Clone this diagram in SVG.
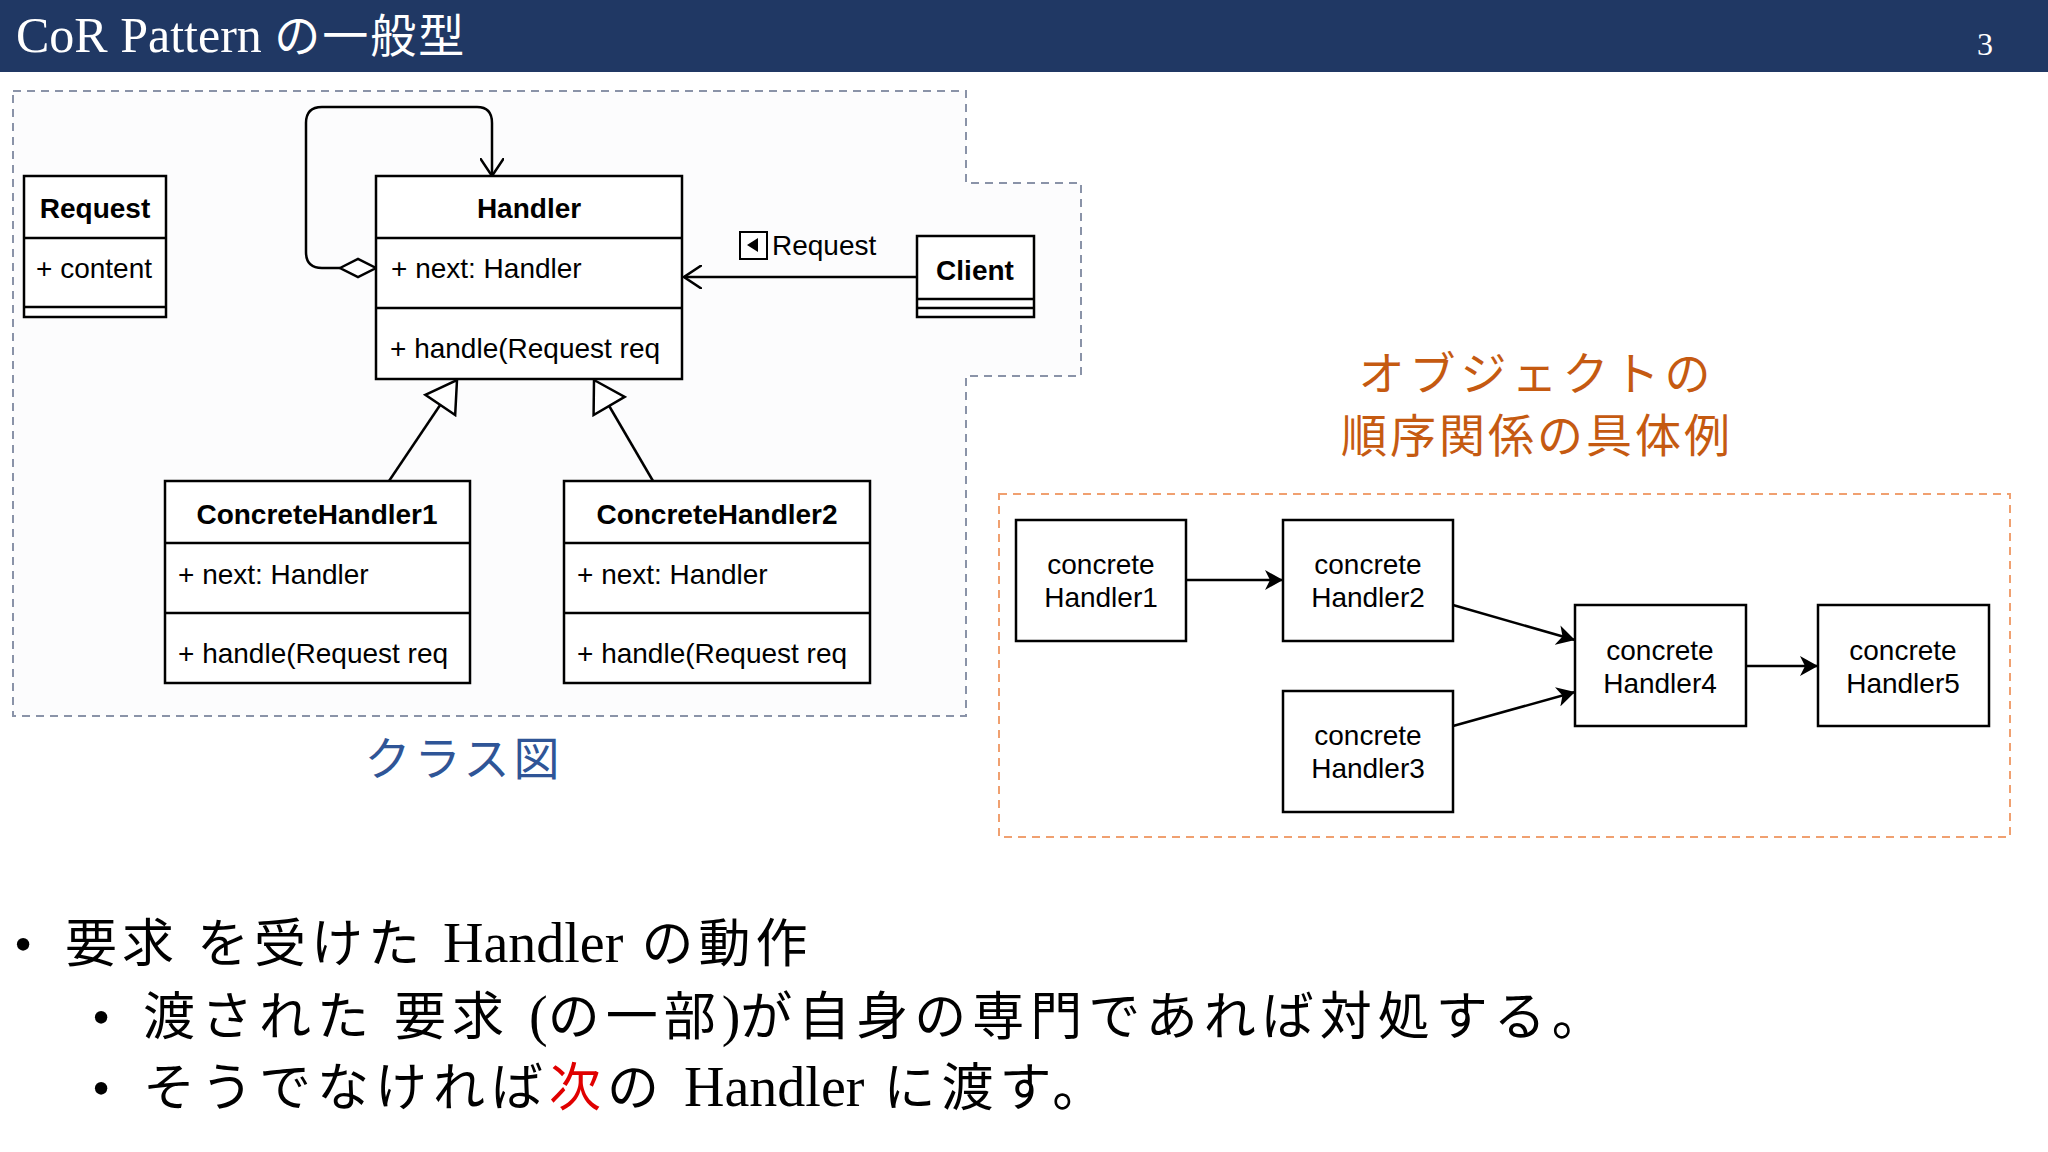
<svg xmlns="http://www.w3.org/2000/svg" width="2048" height="1152" viewBox="0 0 2048 1152">
<style>
.b{fill:#fff;stroke:#000;stroke-width:2.5}
.l{stroke:#000;stroke-width:2.5;fill:none}
.t{font-family:"Liberation Sans",Arial,sans-serif;font-size:28px;fill:#000}
.bd{font-weight:bold}
.c{text-anchor:middle}
.jp{font-family:"Liberation Serif","Noto Sans CJK JP",serif}
.la{letter-spacing:0;font-size:56px}
</style>
<defs>
<marker id="open" markerWidth="20" markerHeight="24" refX="18" refY="12" orient="auto" markerUnits="userSpaceOnUse"><path d="M0,0 L18,12 L0,24" fill="none" stroke="#000" stroke-width="2.5"/></marker>
<marker id="tri" markerWidth="34" markerHeight="40" refX="32" refY="20" orient="auto" markerUnits="userSpaceOnUse"><path d="M2,2 L32,20 L2,38 Z" fill="#fff" stroke="#000" stroke-width="2.5"/></marker>
<marker id="fill" markerWidth="20" markerHeight="20" refX="18" refY="10" orient="auto" markerUnits="userSpaceOnUse"><path d="M0,0 L18,10 L0,20 L5,10 Z" fill="#000"/></marker>
</defs>
<rect width="2048" height="1152" fill="#fff"/>
<rect width="2048" height="72" fill="#203864"/>
<text x="16" y="52" font-size="46" fill="#fff" class="jp"><tspan font-size="50">CoR Pattern </tspan><tspan letter-spacing="2">の一般型</tspan></text>
<text x="1985" y="55" font-size="32" fill="#fff" class="jp" text-anchor="middle">3</text>
<path d="M13,91 H966 V183 H1081 V376 H966 V716 H13 Z" fill="#fcfcfd" stroke="#8a93a8" stroke-width="2" stroke-dasharray="8,6"/>
<rect x="999" y="494" width="1011" height="343" fill="#fff" stroke="#f0a070" stroke-width="2" stroke-dasharray="8,6"/>
<g id="connectors">
<path class="l" d="M340,268 H322 Q306,268 306,252 V123 Q306,107 322,107 H477 Q492,107 492,123 V176" marker-end="url(#open)"/>
<path d="M340,268 L358,259 L376,268 L358,277 Z" fill="#fff" stroke="#000" stroke-width="2.5"/>
<line class="l" x1="917" y1="277" x2="684" y2="277" marker-end="url(#open)"/>
<line class="l" x1="389" y1="481" x2="457" y2="380" marker-end="url(#tri)"/>
<line class="l" x1="653" y1="481" x2="594" y2="380" marker-end="url(#tri)"/>
<line class="l" x1="1186" y1="580" x2="1283" y2="580" marker-end="url(#fill)"/>
<line class="l" x1="1453" y1="605" x2="1575" y2="640" marker-end="url(#fill)"/>
<line class="l" x1="1453" y1="726" x2="1575" y2="692" marker-end="url(#fill)"/>
<line class="l" x1="1746" y1="666" x2="1818" y2="666" marker-end="url(#fill)"/>
<rect x="740" y="232" width="27" height="27" fill="#fff" stroke="#000" stroke-width="2"/>
<path d="M747,245 L758,238 L758,252 Z" fill="#000"/>
<text class="t" x="772" y="255" font-size="25">Request</text>
<text class="t" x="380" y="252" font-size="20">1</text>
</g>
<g id="request">
<rect class="b" x="24" y="176" width="142" height="141"/>
<line class="l" x1="24" y1="238" x2="166" y2="238"/><line class="l" x1="24" y1="307" x2="166" y2="307"/>
<text class="t bd c" x="95" y="218">Request</text>
<text class="t" x="36" y="278">+ content</text>
</g>
<g id="handler">
<rect class="b" x="376" y="176" width="306" height="203"/>
<line class="l" x1="376" y1="238" x2="682" y2="238"/><line class="l" x1="376" y1="308" x2="682" y2="308"/>
<text class="t bd c" x="529" y="218">Handler</text>
<text class="t" x="391" y="278">+ next: Handler</text>
<text class="t" x="390" y="358">+ handle(Request req</text>
</g>
<g id="client">
<rect class="b" x="917" y="236" width="117" height="81"/>
<line class="l" x1="917" y1="299" x2="1034" y2="299"/><line class="l" x1="917" y1="308" x2="1034" y2="308"/>
<text class="t bd c" x="975" y="280">Client</text>
</g>
<g id="ch1">
<rect class="b" x="165" y="481" width="305" height="202"/>
<line class="l" x1="165" y1="543" x2="470" y2="543"/><line class="l" x1="165" y1="613" x2="470" y2="613"/>
<text class="t bd c" x="317" y="524">ConcreteHandler1</text>
<text class="t" x="178" y="584">+ next: Handler</text>
<text class="t" x="178" y="663">+ handle(Request req</text>
</g>
<g id="ch2">
<rect class="b" x="564" y="481" width="306" height="202"/>
<line class="l" x1="564" y1="543" x2="870" y2="543"/><line class="l" x1="564" y1="613" x2="870" y2="613"/>
<text class="t bd c" x="717" y="524">ConcreteHandler2</text>
<text class="t" x="577" y="584">+ next: Handler</text>
<text class="t" x="577" y="663">+ handle(Request req</text>
</g>
<text x="464" y="775" font-size="46" fill="#2f5597" class="jp c" letter-spacing="4">クラス図</text>
<text x="1537" y="390" font-size="46" fill="#c55a11" class="jp c" letter-spacing="5">オブジェクトの</text>
<text x="1537" y="452" font-size="46" fill="#c55a11" class="jp c" letter-spacing="3">順序関係の具体例</text>
<g id="o1"><rect class="b" x="1016" y="520" width="170" height="121"/><text class="t c" x="1101" y="574">concrete</text><text class="t c" x="1101" y="607">Handler1</text></g>
<g id="o2"><rect class="b" x="1283" y="520" width="170" height="121"/><text class="t c" x="1368" y="574">concrete</text><text class="t c" x="1368" y="607">Handler2</text></g>
<g id="o3"><rect class="b" x="1283" y="691" width="170" height="121"/><text class="t c" x="1368" y="745">concrete</text><text class="t c" x="1368" y="778">Handler3</text></g>
<g id="o4"><rect class="b" x="1575" y="605" width="171" height="121"/><text class="t c" x="1660" y="660">concrete</text><text class="t c" x="1660" y="693">Handler4</text></g>
<g id="o5"><rect class="b" x="1818" y="605" width="171" height="121"/><text class="t c" x="1903" y="660">concrete</text><text class="t c" x="1903" y="693">Handler5</text></g>
<g font-size="52" fill="#000" class="jp">
<text x="14" y="962">•</text>
<text x="65" y="962" letter-spacing="5">要求 を受けた <tspan class="la">Handler</tspan> の動作</text>
<text x="92" y="1035">•</text>
<text x="143" y="1035" letter-spacing="6">渡された 要求 <tspan class="la">(</tspan>の一部<tspan class="la">)</tspan>が自身の専門であれば対処する。</text>
<text x="92" y="1106">•</text>
<text x="143" y="1106" letter-spacing="6">そうでなければ<tspan fill="#e00000">次</tspan>の <tspan class="la">Handler</tspan> に渡す。</text>
</g>
</svg>
